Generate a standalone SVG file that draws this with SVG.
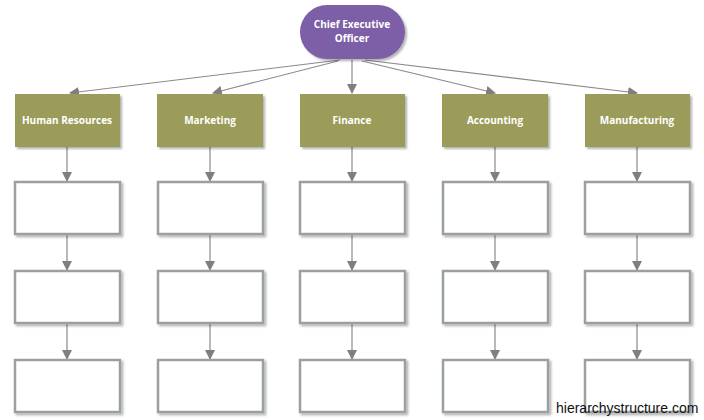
<svg xmlns="http://www.w3.org/2000/svg" width="704" height="420" viewBox="0 0 704 420">
<defs>
<marker id="ah" markerWidth="10" markerHeight="10" refX="9" refY="5" orient="auto" markerUnits="userSpaceOnUse"><path d="M0,0 L10,5 L0,10 Z" fill="#7f7f7f"/></marker>
<filter id="sh" x="-10%" y="-10%" width="130%" height="130%"><feDropShadow dx="2" dy="2" stdDeviation="1.2" flood-color="#000" flood-opacity="0.3"/></filter>
</defs>
<style>
.c{stroke:#8a8a8a;stroke-width:1.2;fill:none;marker-end:url(#ah)}
.h{fill:#9c9c5a;filter:url(#sh)}
.e{fill:#fff;stroke:#9aa0a0;stroke-width:2.5;filter:url(#sh)}
.t{font-family:"Open Sans","DejaVu Sans",sans-serif;font-weight:bold;font-size:10px;fill:#fff;text-anchor:middle}
</style>
<g id="connectors">
<path class="c" d="M340,60 L70,93"/>
<path class="c" d="M338,61 L213,93"/>
<path class="c" d="M352,60 L352,93"/>
<path class="c" d="M362,61 L495,93"/>
<path class="c" d="M365,60 L637,93"/>
<path class="c" d="M67,147 L67,181"/><path class="c" d="M67,234 L67,270"/><path class="c" d="M67,323 L67,359"/>
<path class="c" d="M210,147 L210,181"/><path class="c" d="M210,234 L210,270"/><path class="c" d="M210,323 L210,359"/>
<path class="c" d="M352,147 L352,181"/><path class="c" d="M352,234 L352,270"/><path class="c" d="M352,323 L352,359"/>
<path class="c" d="M495,147 L495,181"/><path class="c" d="M495,234 L495,270"/><path class="c" d="M495,323 L495,359"/>
<path class="c" d="M637,147 L637,181"/><path class="c" d="M637,234 L637,270"/><path class="c" d="M637,323 L637,359"/>
</g>
<g id="ceo"><rect x="300" y="5" width="105" height="54" rx="27" fill="#7b5ea6" filter="url(#sh)"/>
<text class="t" x="352" y="28">Chief Executive</text><text class="t" x="352" y="42">Officer</text></g>
<g id="hr"><rect class="h" x="15" y="94" width="105" height="53"/><text class="t" x="67" y="124">Human Resources</text></g>
<g id="marketing"><rect class="h" x="157" y="94" width="106" height="53"/><text class="t" x="210" y="124">Marketing</text></g>
<g id="finance"><rect class="h" x="300" y="94" width="105" height="53"/><text class="t" x="352" y="124">Finance</text></g>
<g id="accounting"><rect class="h" x="442" y="94" width="106" height="53"/><text class="t" x="495" y="124">Accounting</text></g>
<g id="manufacturing"><rect class="h" x="585" y="94" width="105" height="53"/><text class="t" x="637" y="124">Manufacturing</text></g>
<g id="hr1"><rect class="e" x="15" y="182" width="105" height="52"/></g>
<g id="hr2"><rect class="e" x="15" y="271" width="105" height="52"/></g>
<g id="hr3"><rect class="e" x="15" y="360" width="105" height="52"/></g>
<g id="mk1"><rect class="e" x="158" y="182" width="105" height="52"/></g>
<g id="mk2"><rect class="e" x="158" y="271" width="105" height="52"/></g>
<g id="mk3"><rect class="e" x="158" y="360" width="105" height="52"/></g>
<g id="fi1"><rect class="e" x="300" y="182" width="105" height="52"/></g>
<g id="fi2"><rect class="e" x="300" y="271" width="105" height="52"/></g>
<g id="fi3"><rect class="e" x="300" y="360" width="105" height="52"/></g>
<g id="ac1"><rect class="e" x="443" y="182" width="105" height="52"/></g>
<g id="ac2"><rect class="e" x="443" y="271" width="105" height="52"/></g>
<g id="ac3"><rect class="e" x="443" y="360" width="105" height="52"/></g>
<g id="mf1"><rect class="e" x="585" y="182" width="105" height="52"/></g>
<g id="mf2"><rect class="e" x="585" y="271" width="105" height="52"/></g>
<g id="mf3"><rect class="e" x="585" y="360" width="105" height="52"/></g>
<text x="556" y="413" font-family="Liberation Sans, Arial, sans-serif" font-size="14" fill="#111">hierarchystructure.com</text>
</svg>
